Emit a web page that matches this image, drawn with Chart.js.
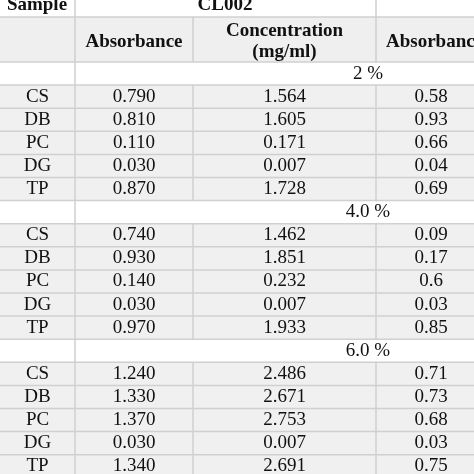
<!DOCTYPE html>
<html lang="en">
<head>
<meta charset="UTF-8">
<title>CL002 Absorbance table</title>
<script src="https://cdn.jsdelivr.net/npm/chart.js"></script>
<style>
  body { margin: 0; background: #fff; }
  #table_chart { display: block; }
</style>
</head>
<body>
<canvas id="table_chart" width="474" height="474"></canvas>
<script>
const samples = ["CS", "DB", "PC", "DG", "TP"];
const sections = ["2 %", "4.0 %", "6.0 %"];
const absorbance = [
  [0.790, 0.810, 0.110, 0.030, 0.870],
  [0.740, 0.930, 0.140, 0.030, 0.970],
  [1.240, 1.330, 1.370, 0.030, 1.340]
];
const concentration = [
  [1.564, 1.605, 0.171, 0.007, 1.728],
  [1.462, 1.851, 0.232, 0.007, 1.933],
  [2.486, 2.671, 2.753, 0.007, 2.691]
];
const absorbance2 = [
  ["0.58", "0.93", "0.66", "0.04", "0.69"],
  ["0.09", "0.17", "0.6", "0.03", "0.85"],
  ["0.71", "0.73", "0.68", "0.03", "0.75"]
];

// column edges and row layout (in scale units = px)
const colEdges = [0, 75, 193, 376, 486];
const rowH = 23.1;
const bodyTop = 62;

const tablePlugin = {
  id: "tablePlugin",
  afterDraw(chart) {
    const ctx = chart.ctx;
    const xs = chart.scales.x, ys = chart.scales.y;
    const X = v => xs.getPixelForValue(v);
    const Y = v => ys.getPixelForValue(v);
    const cx = i => X((colEdges[i] + colEdges[i + 1]) / 2);
    ctx.save();
    ctx.textAlign = "center";
    ctx.textBaseline = "middle";

    // header row 2 background
    ctx.fillStyle = "#efefef";
    ctx.fillRect(X(0), Y(17), X(486) - X(0), Y(bodyTop) - Y(17));

    // body rows
    let r = 0;
    const rows = [];
    sections.forEach((sec, s) => {
      rows.push({ type: "sec", s, top: bodyTop + r * rowH }); r++;
      samples.forEach((name, i) => {
        rows.push({ type: "data", s, i, top: bodyTop + r * rowH }); r++;
      });
    });
    rows.forEach(row => {
      if (row.type === "data") {
        ctx.fillStyle = "#f0f0f0";
        ctx.fillRect(X(0), Y(row.top), X(486) - X(0), Y(row.top + rowH) - Y(row.top));
      }
    });

    // grid lines
    ctx.strokeStyle = "#d0d0d0";
    ctx.lineWidth = 1.5;
    const hLines = [17, bodyTop].concat(rows.map(rw => rw.top + rowH));
    hLines.forEach(y => {
      ctx.beginPath(); ctx.moveTo(X(0), Y(y)); ctx.lineTo(X(486), Y(y)); ctx.stroke();
    });
    ctx.beginPath();
    [75, 376].forEach(x => { ctx.moveTo(X(x), Y(0)); ctx.lineTo(X(x), Y(474)); });
    ctx.moveTo(X(193), Y(17)); ctx.lineTo(X(193), Y(bodyTop));
    rows.forEach(row => {
      if (row.type === "data") {
        ctx.moveTo(X(193), Y(row.top)); ctx.lineTo(X(193), Y(row.top + rowH));
      }
    });
    ctx.stroke();
    // section rows are merged from column 1 onward: clear the 376 line there
    ctx.fillStyle = "#fff";
    rows.forEach(row => {
      if (row.type === "sec") {
        ctx.fillRect(X(374), Y(row.top + 1), 4, Y(row.top + rowH - 1) - Y(row.top + 1));
      }
    });

    // header text
    ctx.fillStyle = "#111";
    ctx.font = "bold 19px 'Liberation Serif', serif";
    ctx.fillText("Sample", X(37), Y(5));
    ctx.fillText("CL002", X(225), Y(5));
    ctx.fillText("Absorbance", cx(1), Y(42));
    ctx.fillText("Concentration", cx(2), Y(31));
    ctx.fillText("(mg/ml)", cx(2), Y(52));
    ctx.textAlign = "left";
    ctx.fillText("Absorbance", X(386), Y(42));
    ctx.textAlign = "center";

    // body text
    ctx.font = "19px 'Liberation Serif', serif";
    rows.forEach(row => {
      const yc = Y(row.top + rowH / 2);
      if (row.type === "sec") {
        ctx.fillText(sections[row.s], X(368), yc);
      } else {
        ctx.fillText(samples[row.i], cx(0), yc);
        ctx.fillText(absorbance[row.s][row.i].toFixed(3), cx(1), yc);
        ctx.fillText(concentration[row.s][row.i].toFixed(3), cx(2), yc);
        ctx.fillText(absorbance2[row.s][row.i], X(431), yc);
      }
    });
    ctx.restore();
  }
};

new Chart("table_chart", {
  type: "scatter",
  data: { datasets: [{ data: [] }] },
  options: {
    responsive: false,
    animation: false,
    layout: { padding: 0 },
    plugins: { legend: { display: false }, tooltip: { enabled: false } },
    scales: {
      x: { type: "linear", min: 0, max: 474, display: false },
      y: { type: "linear", min: 0, max: 474, reverse: true, display: false }
    }
  },
  plugins: [tablePlugin]
});
</script>
</body>
</html>
